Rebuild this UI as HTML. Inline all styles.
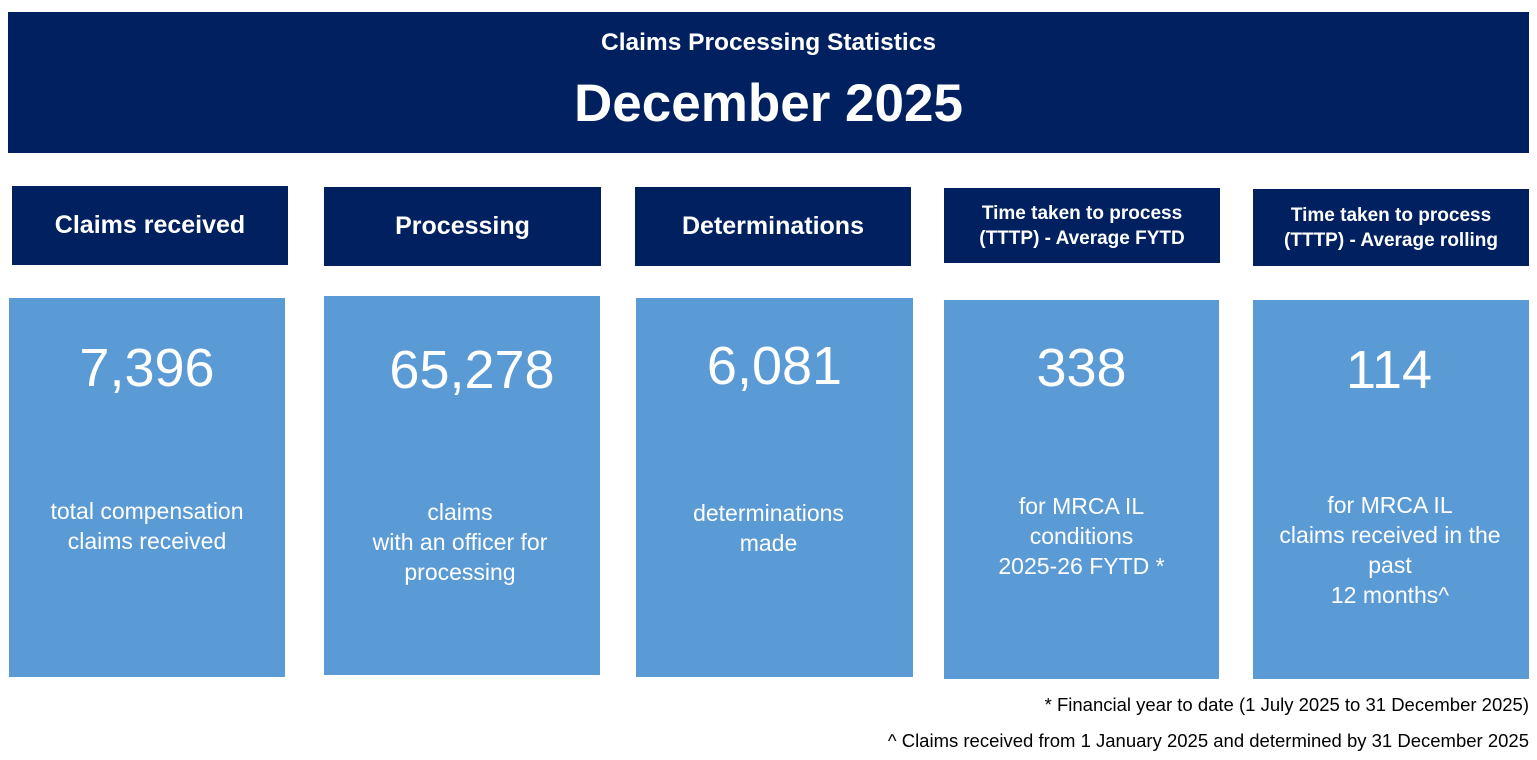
<!DOCTYPE html>
<html><head><meta charset="utf-8"><style>
body{margin:0;width:1537px;height:760px;background:#fff;position:relative;overflow:hidden;font-family:"Liberation Sans",sans-serif;color:#fff}
.a{position:absolute}
.nv{background:#002060;display:flex;align-items:center;justify-content:center;text-align:center;font-weight:bold;white-space:nowrap}
.bl{background:#5b9bd5;text-align:center}
.num{position:absolute;left:0;right:0;font-size:54px;line-height:60px}
.txt{position:absolute;left:-20px;right:-20px;font-size:23px;line-height:30px;white-space:nowrap}
.fn{position:absolute;right:8px;color:#000;font-size:18.5px;white-space:nowrap}
</style></head><body>
<div class="a" style="left:8px;top:12px;width:1521px;height:141px;background:#002060"></div>
<div class="a" style="left:8px;width:1521px;top:29px;text-align:center;font-weight:bold;font-size:24.5px">Claims Processing Statistics</div>
<div class="a" style="left:8px;width:1521px;top:73px;text-align:center;font-weight:bold;font-size:53px">December 2025</div>

<div class="a nv" style="left:12px;top:186px;width:276px;height:79px;font-size:25px">Claims received</div>
<div class="a nv" style="left:324px;top:187px;width:277px;height:79px;font-size:25px">Processing</div>
<div class="a nv" style="left:635px;top:187px;width:276px;height:79px;font-size:25px">Determinations</div>
<div class="a nv" style="left:944px;top:188px;width:276px;height:75px;font-size:19px;line-height:25px">Time taken to process<br>(TTTP) - Average FYTD</div>
<div class="a nv" style="left:1253px;top:189px;width:276px;height:77px;font-size:19px;line-height:25px">Time taken to process<br>(TTTP) - Average rolling</div>

<div class="a bl" style="left:9px;top:298px;width:276px;height:379px"><div class="num" style="top:40px">7,396</div><div class="txt" style="top:198px">total compensation<br>claims received</div></div>
<div class="a bl" style="left:324px;top:296px;width:276px;height:379px"><div class="num" style="top:44px;left:20px">65,278</div><div class="txt" style="top:201px;left:-24px">claims<br>with an officer for<br>processing</div></div>
<div class="a bl" style="left:636px;top:298px;width:277px;height:379px"><div class="num" style="top:38px">6,081</div><div class="txt" style="top:200px;left:-32px">determinations<br>made</div></div>
<div class="a bl" style="left:944px;top:300px;width:275px;height:379px"><div class="num" style="top:38px">338</div><div class="txt" style="top:191px">for MRCA IL<br>conditions<br>2025-26 FYTD *</div></div>
<div class="a bl" style="left:1253px;top:300px;width:276px;height:379px"><div class="num" style="top:40px;left:-4px">114</div><div class="txt" style="top:190px;left:-22px">for MRCA IL<br>claims received in the<br>past<br>12 months^</div></div>

<div class="fn" style="top:694px">* Financial year to date (1 July 2025 to 31 December 2025)</div>
<div class="fn" style="top:730px">^ Claims received from 1 January 2025 and determined by 31 December 2025</div>
</body></html>
